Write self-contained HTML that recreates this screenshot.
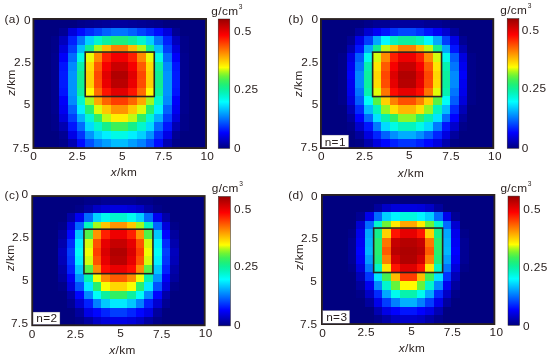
<!DOCTYPE html>
<html><head><meta charset="utf-8"><title>figure</title>
<style>
html,body{margin:0;padding:0;background:#fff;}
svg{display:block;}
text{font-family:"Liberation Sans",sans-serif;font-size:11.8px;fill:#2b2220;letter-spacing:0.4px;}
.i{font-style:italic;}
.sup{font-size:6.6px;}
</style></head><body>
<svg width="550" height="358" viewBox="0 0 550 358">
<defs>
<linearGradient id="jet" x1="0" y1="1" x2="0" y2="0">
<stop offset="0.0000" stop-color="#000080"/>
<stop offset="0.1200" stop-color="#0000ff"/>
<stop offset="0.3600" stop-color="#00ffff"/>
<stop offset="0.3759" stop-color="#00fcee"/>
<stop offset="0.3931" stop-color="#00f9dc"/>
<stop offset="0.4263" stop-color="#04f4ba"/>
<stop offset="0.4594" stop-color="#0df198"/>
<stop offset="0.4925" stop-color="#20f077"/>
<stop offset="0.5256" stop-color="#3ef157"/>
<stop offset="0.5587" stop-color="#6cf437"/>
<stop offset="0.5773" stop-color="#8df727"/>
<stop offset="0.5919" stop-color="#abf91a"/>
<stop offset="0.6091" stop-color="#d4fc0c"/>
<stop offset="0.6250" stop-color="#ffff00"/>
<stop offset="0.8750" stop-color="#ff0000"/>
<stop offset="1.0000" stop-color="#990000"/>
</linearGradient>
</defs>
<rect x="0" y="0" width="550" height="358" fill="#ffffff"/>

<g shape-rendering="crispEdges">
<rect x="33.42" y="18.93" width="43.46" height="8.91" fill="#000080"/>
<rect x="76.59" y="18.93" width="8.93" height="8.91" fill="#00008a"/>
<rect x="85.22" y="18.93" width="8.93" height="8.91" fill="#00008f"/>
<rect x="93.85" y="18.93" width="8.93" height="8.91" fill="#000094"/>
<rect x="102.48" y="18.93" width="8.93" height="8.91" fill="#000099"/>
<rect x="111.12" y="18.93" width="17.57" height="8.91" fill="#00009e"/>
<rect x="128.38" y="18.93" width="8.93" height="8.91" fill="#000099"/>
<rect x="137.01" y="18.93" width="8.93" height="8.91" fill="#000094"/>
<rect x="145.65" y="18.93" width="8.93" height="8.91" fill="#00008f"/>
<rect x="154.28" y="18.93" width="8.93" height="8.91" fill="#00008a"/>
<rect x="162.91" y="18.93" width="43.46" height="8.91" fill="#000080"/>
<rect x="33.42" y="27.53" width="26.20" height="8.91" fill="#000080"/>
<rect x="59.32" y="27.53" width="8.93" height="8.91" fill="#000094"/>
<rect x="67.95" y="27.53" width="8.93" height="8.91" fill="#0000db"/>
<rect x="76.59" y="27.53" width="8.93" height="8.91" fill="#000aff"/>
<rect x="85.22" y="27.53" width="8.93" height="8.91" fill="#0029ff"/>
<rect x="93.85" y="27.53" width="8.93" height="8.91" fill="#0042ff"/>
<rect x="102.48" y="27.53" width="8.93" height="8.91" fill="#0061ff"/>
<rect x="111.12" y="27.53" width="17.57" height="8.91" fill="#0075ff"/>
<rect x="128.38" y="27.53" width="8.93" height="8.91" fill="#0061ff"/>
<rect x="137.01" y="27.53" width="8.93" height="8.91" fill="#0042ff"/>
<rect x="145.65" y="27.53" width="8.93" height="8.91" fill="#0029ff"/>
<rect x="154.28" y="27.53" width="8.93" height="8.91" fill="#000aff"/>
<rect x="162.91" y="27.53" width="8.93" height="8.91" fill="#0000db"/>
<rect x="171.54" y="27.53" width="8.93" height="8.91" fill="#000094"/>
<rect x="180.18" y="27.53" width="26.20" height="8.91" fill="#000080"/>
<rect x="33.42" y="36.14" width="17.57" height="8.91" fill="#000080"/>
<rect x="50.69" y="36.14" width="8.93" height="8.91" fill="#00008a"/>
<rect x="59.32" y="36.14" width="8.93" height="8.91" fill="#0000bd"/>
<rect x="67.95" y="36.14" width="8.93" height="8.91" fill="#001fff"/>
<rect x="76.59" y="36.14" width="8.93" height="8.91" fill="#0075ff"/>
<rect x="85.22" y="36.14" width="8.93" height="8.91" fill="#00d1ff"/>
<rect x="93.85" y="36.14" width="8.93" height="8.91" fill="#01f7cd"/>
<rect x="102.48" y="36.14" width="8.93" height="8.91" fill="#0bf19f"/>
<rect x="111.12" y="36.14" width="17.57" height="8.91" fill="#1cf07c"/>
<rect x="128.38" y="36.14" width="8.93" height="8.91" fill="#0bf19f"/>
<rect x="137.01" y="36.14" width="8.93" height="8.91" fill="#01f7cd"/>
<rect x="145.65" y="36.14" width="8.93" height="8.91" fill="#00d1ff"/>
<rect x="154.28" y="36.14" width="8.93" height="8.91" fill="#0075ff"/>
<rect x="162.91" y="36.14" width="8.93" height="8.91" fill="#001fff"/>
<rect x="171.54" y="36.14" width="8.93" height="8.91" fill="#0000bd"/>
<rect x="180.18" y="36.14" width="8.93" height="8.91" fill="#00008a"/>
<rect x="188.81" y="36.14" width="17.57" height="8.91" fill="#000080"/>
<rect x="33.42" y="44.75" width="17.57" height="8.91" fill="#000080"/>
<rect x="50.69" y="44.75" width="8.93" height="8.91" fill="#00008a"/>
<rect x="59.32" y="44.75" width="8.93" height="8.91" fill="#0000db"/>
<rect x="67.95" y="44.75" width="8.93" height="8.91" fill="#003dff"/>
<rect x="76.59" y="44.75" width="8.93" height="8.91" fill="#00bdff"/>
<rect x="85.22" y="44.75" width="8.93" height="8.91" fill="#11f091"/>
<rect x="93.85" y="44.75" width="8.93" height="8.91" fill="#aff918"/>
<rect x="102.48" y="44.75" width="8.93" height="8.91" fill="#ffbd00"/>
<rect x="111.12" y="44.75" width="17.57" height="8.91" fill="#ff8000"/>
<rect x="128.38" y="44.75" width="8.93" height="8.91" fill="#ffbd00"/>
<rect x="137.01" y="44.75" width="8.93" height="8.91" fill="#aff918"/>
<rect x="145.65" y="44.75" width="8.93" height="8.91" fill="#11f091"/>
<rect x="154.28" y="44.75" width="8.93" height="8.91" fill="#00bdff"/>
<rect x="162.91" y="44.75" width="8.93" height="8.91" fill="#003dff"/>
<rect x="171.54" y="44.75" width="8.93" height="8.91" fill="#0000db"/>
<rect x="180.18" y="44.75" width="8.93" height="8.91" fill="#00008a"/>
<rect x="188.81" y="44.75" width="17.57" height="8.91" fill="#000080"/>
<rect x="33.42" y="53.36" width="17.57" height="8.91" fill="#000080"/>
<rect x="50.69" y="53.36" width="8.93" height="8.91" fill="#00008f"/>
<rect x="59.32" y="53.36" width="8.93" height="8.91" fill="#0000fa"/>
<rect x="67.95" y="53.36" width="8.93" height="8.91" fill="#006bff"/>
<rect x="76.59" y="53.36" width="8.93" height="8.91" fill="#00fbe6"/>
<rect x="85.22" y="53.36" width="8.93" height="8.91" fill="#e9fe05"/>
<rect x="93.85" y="53.36" width="8.93" height="8.91" fill="#ff8a00"/>
<rect x="102.48" y="53.36" width="8.93" height="8.91" fill="#ff1f00"/>
<rect x="111.12" y="53.36" width="17.57" height="8.91" fill="#f30000"/>
<rect x="128.38" y="53.36" width="8.93" height="8.91" fill="#ff1f00"/>
<rect x="137.01" y="53.36" width="8.93" height="8.91" fill="#ff8a00"/>
<rect x="145.65" y="53.36" width="8.93" height="8.91" fill="#e9fe05"/>
<rect x="154.28" y="53.36" width="8.93" height="8.91" fill="#00fbe6"/>
<rect x="162.91" y="53.36" width="8.93" height="8.91" fill="#006bff"/>
<rect x="171.54" y="53.36" width="8.93" height="8.91" fill="#0000fa"/>
<rect x="180.18" y="53.36" width="8.93" height="8.91" fill="#00008f"/>
<rect x="188.81" y="53.36" width="17.57" height="8.91" fill="#000080"/>
<rect x="33.42" y="61.97" width="17.57" height="8.91" fill="#000080"/>
<rect x="50.69" y="61.97" width="8.93" height="8.91" fill="#00008f"/>
<rect x="59.32" y="61.97" width="8.93" height="8.91" fill="#0014ff"/>
<rect x="67.95" y="61.97" width="8.93" height="8.91" fill="#008aff"/>
<rect x="76.59" y="61.97" width="8.93" height="8.91" fill="#09f2a6"/>
<rect x="85.22" y="61.97" width="8.93" height="8.91" fill="#ffdb00"/>
<rect x="93.85" y="61.97" width="8.93" height="8.91" fill="#ff5a00"/>
<rect x="102.48" y="61.97" width="8.93" height="8.91" fill="#f70000"/>
<rect x="111.12" y="61.97" width="17.57" height="8.91" fill="#ca0000"/>
<rect x="128.38" y="61.97" width="8.93" height="8.91" fill="#f70000"/>
<rect x="137.01" y="61.97" width="8.93" height="8.91" fill="#ff5a00"/>
<rect x="145.65" y="61.97" width="8.93" height="8.91" fill="#ffdb00"/>
<rect x="154.28" y="61.97" width="8.93" height="8.91" fill="#09f2a6"/>
<rect x="162.91" y="61.97" width="8.93" height="8.91" fill="#008aff"/>
<rect x="171.54" y="61.97" width="8.93" height="8.91" fill="#0014ff"/>
<rect x="180.18" y="61.97" width="8.93" height="8.91" fill="#00008f"/>
<rect x="188.81" y="61.97" width="17.57" height="8.91" fill="#000080"/>
<rect x="33.42" y="70.58" width="17.57" height="8.91" fill="#000080"/>
<rect x="50.69" y="70.58" width="8.93" height="8.91" fill="#00008f"/>
<rect x="59.32" y="70.58" width="8.93" height="8.91" fill="#001aff"/>
<rect x="67.95" y="70.58" width="8.93" height="8.91" fill="#0094ff"/>
<rect x="76.59" y="70.58" width="8.93" height="8.91" fill="#11f091"/>
<rect x="85.22" y="70.58" width="8.93" height="8.91" fill="#ffd100"/>
<rect x="93.85" y="70.58" width="8.93" height="8.91" fill="#ff4600"/>
<rect x="102.48" y="70.58" width="8.93" height="8.91" fill="#e20000"/>
<rect x="111.12" y="70.58" width="17.57" height="8.91" fill="#b10000"/>
<rect x="128.38" y="70.58" width="8.93" height="8.91" fill="#e20000"/>
<rect x="137.01" y="70.58" width="8.93" height="8.91" fill="#ff4600"/>
<rect x="145.65" y="70.58" width="8.93" height="8.91" fill="#ffd100"/>
<rect x="154.28" y="70.58" width="8.93" height="8.91" fill="#11f091"/>
<rect x="162.91" y="70.58" width="8.93" height="8.91" fill="#0094ff"/>
<rect x="171.54" y="70.58" width="8.93" height="8.91" fill="#001aff"/>
<rect x="180.18" y="70.58" width="8.93" height="8.91" fill="#00008f"/>
<rect x="188.81" y="70.58" width="17.57" height="8.91" fill="#000080"/>
<rect x="33.42" y="79.19" width="17.57" height="8.91" fill="#000080"/>
<rect x="50.69" y="79.19" width="8.93" height="8.91" fill="#00008f"/>
<rect x="59.32" y="79.19" width="8.93" height="8.91" fill="#001aff"/>
<rect x="67.95" y="79.19" width="8.93" height="8.91" fill="#0094ff"/>
<rect x="76.59" y="79.19" width="8.93" height="8.91" fill="#11f091"/>
<rect x="85.22" y="79.19" width="8.93" height="8.91" fill="#ffd100"/>
<rect x="93.85" y="79.19" width="8.93" height="8.91" fill="#ff4c00"/>
<rect x="102.48" y="79.19" width="8.93" height="8.91" fill="#eb0000"/>
<rect x="111.12" y="79.19" width="17.57" height="8.91" fill="#ba0000"/>
<rect x="128.38" y="79.19" width="8.93" height="8.91" fill="#eb0000"/>
<rect x="137.01" y="79.19" width="8.93" height="8.91" fill="#ff4c00"/>
<rect x="145.65" y="79.19" width="8.93" height="8.91" fill="#ffd100"/>
<rect x="154.28" y="79.19" width="8.93" height="8.91" fill="#11f091"/>
<rect x="162.91" y="79.19" width="8.93" height="8.91" fill="#0094ff"/>
<rect x="171.54" y="79.19" width="8.93" height="8.91" fill="#001aff"/>
<rect x="180.18" y="79.19" width="8.93" height="8.91" fill="#00008f"/>
<rect x="188.81" y="79.19" width="17.57" height="8.91" fill="#000080"/>
<rect x="33.42" y="87.80" width="17.57" height="8.91" fill="#000080"/>
<rect x="50.69" y="87.80" width="8.93" height="8.91" fill="#00008f"/>
<rect x="59.32" y="87.80" width="8.93" height="8.91" fill="#0014ff"/>
<rect x="67.95" y="87.80" width="8.93" height="8.91" fill="#0094ff"/>
<rect x="76.59" y="87.80" width="8.93" height="8.91" fill="#0bf19f"/>
<rect x="85.22" y="87.80" width="8.93" height="8.91" fill="#fffa00"/>
<rect x="93.85" y="87.80" width="8.93" height="8.91" fill="#ff6b00"/>
<rect x="102.48" y="87.80" width="8.93" height="8.91" fill="#ff1400"/>
<rect x="111.12" y="87.80" width="17.57" height="8.91" fill="#e20000"/>
<rect x="128.38" y="87.80" width="8.93" height="8.91" fill="#ff1400"/>
<rect x="137.01" y="87.80" width="8.93" height="8.91" fill="#ff6b00"/>
<rect x="145.65" y="87.80" width="8.93" height="8.91" fill="#fffa00"/>
<rect x="154.28" y="87.80" width="8.93" height="8.91" fill="#0bf19f"/>
<rect x="162.91" y="87.80" width="8.93" height="8.91" fill="#0094ff"/>
<rect x="171.54" y="87.80" width="8.93" height="8.91" fill="#0014ff"/>
<rect x="180.18" y="87.80" width="8.93" height="8.91" fill="#00008f"/>
<rect x="188.81" y="87.80" width="17.57" height="8.91" fill="#000080"/>
<rect x="33.42" y="96.41" width="17.57" height="8.91" fill="#000080"/>
<rect x="50.69" y="96.41" width="8.93" height="8.91" fill="#00008f"/>
<rect x="59.32" y="96.41" width="8.93" height="8.91" fill="#0000fa"/>
<rect x="67.95" y="96.41" width="8.93" height="8.91" fill="#008aff"/>
<rect x="76.59" y="96.41" width="8.93" height="8.91" fill="#01f7cd"/>
<rect x="85.22" y="96.41" width="8.93" height="8.91" fill="#a0f81e"/>
<rect x="93.85" y="96.41" width="8.93" height="8.91" fill="#ffa800"/>
<rect x="102.48" y="96.41" width="8.93" height="8.91" fill="#ff6400"/>
<rect x="111.12" y="96.41" width="17.57" height="8.91" fill="#ff3c00"/>
<rect x="128.38" y="96.41" width="8.93" height="8.91" fill="#ff6400"/>
<rect x="137.01" y="96.41" width="8.93" height="8.91" fill="#ffa800"/>
<rect x="145.65" y="96.41" width="8.93" height="8.91" fill="#a0f81e"/>
<rect x="154.28" y="96.41" width="8.93" height="8.91" fill="#01f7cd"/>
<rect x="162.91" y="96.41" width="8.93" height="8.91" fill="#008aff"/>
<rect x="171.54" y="96.41" width="8.93" height="8.91" fill="#0000fa"/>
<rect x="180.18" y="96.41" width="8.93" height="8.91" fill="#00008f"/>
<rect x="188.81" y="96.41" width="17.57" height="8.91" fill="#000080"/>
<rect x="33.42" y="105.02" width="17.57" height="8.91" fill="#000080"/>
<rect x="50.69" y="105.02" width="8.93" height="8.91" fill="#00008f"/>
<rect x="59.32" y="105.02" width="8.93" height="8.91" fill="#0000f0"/>
<rect x="67.95" y="105.02" width="8.93" height="8.91" fill="#0061ff"/>
<rect x="76.59" y="105.02" width="8.93" height="8.91" fill="#00f0ff"/>
<rect x="85.22" y="105.02" width="8.93" height="8.91" fill="#26f06f"/>
<rect x="93.85" y="105.02" width="8.93" height="8.91" fill="#dafd0a"/>
<rect x="102.48" y="105.02" width="8.93" height="8.91" fill="#ffc700"/>
<rect x="111.12" y="105.02" width="17.57" height="8.91" fill="#ff9400"/>
<rect x="128.38" y="105.02" width="8.93" height="8.91" fill="#ffc700"/>
<rect x="137.01" y="105.02" width="8.93" height="8.91" fill="#dafd0a"/>
<rect x="145.65" y="105.02" width="8.93" height="8.91" fill="#26f06f"/>
<rect x="154.28" y="105.02" width="8.93" height="8.91" fill="#00f0ff"/>
<rect x="162.91" y="105.02" width="8.93" height="8.91" fill="#0061ff"/>
<rect x="171.54" y="105.02" width="8.93" height="8.91" fill="#0000f0"/>
<rect x="180.18" y="105.02" width="8.93" height="8.91" fill="#00008f"/>
<rect x="188.81" y="105.02" width="17.57" height="8.91" fill="#000080"/>
<rect x="33.42" y="113.63" width="17.57" height="8.91" fill="#000080"/>
<rect x="50.69" y="113.63" width="8.93" height="8.91" fill="#00008a"/>
<rect x="59.32" y="113.63" width="8.93" height="8.91" fill="#0000db"/>
<rect x="67.95" y="113.63" width="8.93" height="8.91" fill="#003dff"/>
<rect x="76.59" y="113.63" width="8.93" height="8.91" fill="#00b2ff"/>
<rect x="85.22" y="113.63" width="8.93" height="8.91" fill="#01f8d5"/>
<rect x="93.85" y="113.63" width="8.93" height="8.91" fill="#30f063"/>
<rect x="102.48" y="113.63" width="8.93" height="8.91" fill="#bdfb13"/>
<rect x="111.12" y="113.63" width="17.57" height="8.91" fill="#fff000"/>
<rect x="128.38" y="113.63" width="8.93" height="8.91" fill="#bdfb13"/>
<rect x="137.01" y="113.63" width="8.93" height="8.91" fill="#30f063"/>
<rect x="145.65" y="113.63" width="8.93" height="8.91" fill="#01f8d5"/>
<rect x="154.28" y="113.63" width="8.93" height="8.91" fill="#00b2ff"/>
<rect x="162.91" y="113.63" width="8.93" height="8.91" fill="#003dff"/>
<rect x="171.54" y="113.63" width="8.93" height="8.91" fill="#0000db"/>
<rect x="180.18" y="113.63" width="8.93" height="8.91" fill="#00008a"/>
<rect x="188.81" y="113.63" width="17.57" height="8.91" fill="#000080"/>
<rect x="33.42" y="122.24" width="17.57" height="8.91" fill="#000080"/>
<rect x="50.69" y="122.24" width="8.93" height="8.91" fill="#00008a"/>
<rect x="59.32" y="122.24" width="8.93" height="8.91" fill="#0000b2"/>
<rect x="67.95" y="122.24" width="8.93" height="8.91" fill="#0014ff"/>
<rect x="76.59" y="122.24" width="8.93" height="8.91" fill="#006bff"/>
<rect x="85.22" y="122.24" width="8.93" height="8.91" fill="#00dbff"/>
<rect x="93.85" y="122.24" width="8.93" height="8.91" fill="#01f7cd"/>
<rect x="102.48" y="122.24" width="8.93" height="8.91" fill="#14f08a"/>
<rect x="111.12" y="122.24" width="17.57" height="8.91" fill="#3cf158"/>
<rect x="128.38" y="122.24" width="8.93" height="8.91" fill="#14f08a"/>
<rect x="137.01" y="122.24" width="8.93" height="8.91" fill="#01f7cd"/>
<rect x="145.65" y="122.24" width="8.93" height="8.91" fill="#00dbff"/>
<rect x="154.28" y="122.24" width="8.93" height="8.91" fill="#006bff"/>
<rect x="162.91" y="122.24" width="8.93" height="8.91" fill="#0014ff"/>
<rect x="171.54" y="122.24" width="8.93" height="8.91" fill="#0000b2"/>
<rect x="180.18" y="122.24" width="8.93" height="8.91" fill="#00008a"/>
<rect x="188.81" y="122.24" width="17.57" height="8.91" fill="#000080"/>
<rect x="33.42" y="130.85" width="26.20" height="8.91" fill="#000080"/>
<rect x="59.32" y="130.85" width="8.93" height="8.91" fill="#000094"/>
<rect x="67.95" y="130.85" width="8.93" height="8.91" fill="#0000e6"/>
<rect x="76.59" y="130.85" width="8.93" height="8.91" fill="#0033ff"/>
<rect x="85.22" y="130.85" width="8.93" height="8.91" fill="#0094ff"/>
<rect x="93.85" y="130.85" width="8.93" height="8.91" fill="#00d1ff"/>
<rect x="102.48" y="130.85" width="8.93" height="8.91" fill="#00f0ff"/>
<rect x="111.12" y="130.85" width="17.57" height="8.91" fill="#00fbe6"/>
<rect x="128.38" y="130.85" width="8.93" height="8.91" fill="#00f0ff"/>
<rect x="137.01" y="130.85" width="8.93" height="8.91" fill="#00d1ff"/>
<rect x="145.65" y="130.85" width="8.93" height="8.91" fill="#0094ff"/>
<rect x="154.28" y="130.85" width="8.93" height="8.91" fill="#0033ff"/>
<rect x="162.91" y="130.85" width="8.93" height="8.91" fill="#0000e6"/>
<rect x="171.54" y="130.85" width="8.93" height="8.91" fill="#000094"/>
<rect x="180.18" y="130.85" width="26.20" height="8.91" fill="#000080"/>
<rect x="33.42" y="139.46" width="26.20" height="8.91" fill="#000080"/>
<rect x="59.32" y="139.46" width="8.93" height="8.91" fill="#00008a"/>
<rect x="67.95" y="139.46" width="8.93" height="8.91" fill="#0000b2"/>
<rect x="76.59" y="139.46" width="8.93" height="8.91" fill="#000aff"/>
<rect x="85.22" y="139.46" width="8.93" height="8.91" fill="#004dff"/>
<rect x="93.85" y="139.46" width="8.93" height="8.91" fill="#0080ff"/>
<rect x="102.48" y="139.46" width="8.93" height="8.91" fill="#009eff"/>
<rect x="111.12" y="139.46" width="17.57" height="8.91" fill="#00bdff"/>
<rect x="128.38" y="139.46" width="8.93" height="8.91" fill="#009eff"/>
<rect x="137.01" y="139.46" width="8.93" height="8.91" fill="#0080ff"/>
<rect x="145.65" y="139.46" width="8.93" height="8.91" fill="#004dff"/>
<rect x="154.28" y="139.46" width="8.93" height="8.91" fill="#000aff"/>
<rect x="162.91" y="139.46" width="8.93" height="8.91" fill="#0000b2"/>
<rect x="171.54" y="139.46" width="8.93" height="8.91" fill="#00008a"/>
<rect x="180.18" y="139.46" width="26.20" height="8.91" fill="#000080"/>
</g>
<rect x="33.42" y="18.93" width="172.65" height="129.15" fill="none" stroke="#2b2220" stroke-width="1.85"/>
<rect x="85.22" y="52.06" width="69.06" height="44.45" fill="none" stroke="#2b2220" stroke-width="1.6"/>
<rect x="218.20" y="19.00" width="11.60" height="129.40" fill="url(#jet)" stroke="#2b2220" stroke-width="0.5"/>
<g shape-rendering="crispEdges">
<rect x="320.93" y="19.03" width="43.39" height="8.90" fill="#000080"/>
<rect x="364.01" y="19.03" width="8.92" height="8.90" fill="#00008a"/>
<rect x="372.63" y="19.03" width="17.54" height="8.90" fill="#000094"/>
<rect x="389.87" y="19.03" width="34.77" height="8.90" fill="#00009e"/>
<rect x="424.33" y="19.03" width="17.54" height="8.90" fill="#000094"/>
<rect x="441.57" y="19.03" width="8.92" height="8.90" fill="#00008a"/>
<rect x="450.19" y="19.03" width="43.39" height="8.90" fill="#000080"/>
<rect x="320.93" y="27.63" width="34.77" height="8.90" fill="#000080"/>
<rect x="355.39" y="27.63" width="8.92" height="8.90" fill="#00009e"/>
<rect x="364.01" y="27.63" width="8.92" height="8.90" fill="#0000d1"/>
<rect x="372.63" y="27.63" width="8.92" height="8.90" fill="#0000f5"/>
<rect x="381.25" y="27.63" width="8.92" height="8.90" fill="#0014ff"/>
<rect x="389.87" y="27.63" width="8.92" height="8.90" fill="#0033ff"/>
<rect x="398.48" y="27.63" width="17.54" height="8.90" fill="#0047ff"/>
<rect x="415.72" y="27.63" width="8.92" height="8.90" fill="#0033ff"/>
<rect x="424.33" y="27.63" width="8.92" height="8.90" fill="#0014ff"/>
<rect x="432.95" y="27.63" width="8.92" height="8.90" fill="#0000f5"/>
<rect x="441.57" y="27.63" width="8.92" height="8.90" fill="#0000d1"/>
<rect x="450.19" y="27.63" width="8.92" height="8.90" fill="#00009e"/>
<rect x="458.80" y="27.63" width="34.77" height="8.90" fill="#000080"/>
<rect x="320.93" y="36.23" width="26.15" height="8.90" fill="#000080"/>
<rect x="346.78" y="36.23" width="8.92" height="8.90" fill="#000094"/>
<rect x="355.39" y="36.23" width="8.92" height="8.90" fill="#0000e6"/>
<rect x="364.01" y="36.23" width="8.92" height="8.90" fill="#003dff"/>
<rect x="372.63" y="36.23" width="8.92" height="8.90" fill="#00a8ff"/>
<rect x="381.25" y="36.23" width="8.92" height="8.90" fill="#00faff"/>
<rect x="389.87" y="36.23" width="8.92" height="8.90" fill="#03f5bd"/>
<rect x="398.48" y="36.23" width="17.54" height="8.90" fill="#0bf19f"/>
<rect x="415.72" y="36.23" width="8.92" height="8.90" fill="#03f5bd"/>
<rect x="424.33" y="36.23" width="8.92" height="8.90" fill="#00faff"/>
<rect x="432.95" y="36.23" width="8.92" height="8.90" fill="#00a8ff"/>
<rect x="441.57" y="36.23" width="8.92" height="8.90" fill="#003dff"/>
<rect x="450.19" y="36.23" width="8.92" height="8.90" fill="#0000e6"/>
<rect x="458.80" y="36.23" width="8.92" height="8.90" fill="#000094"/>
<rect x="467.42" y="36.23" width="26.15" height="8.90" fill="#000080"/>
<rect x="320.93" y="44.83" width="26.15" height="8.90" fill="#000080"/>
<rect x="346.78" y="44.83" width="8.92" height="8.90" fill="#0000b2"/>
<rect x="355.39" y="44.83" width="8.92" height="8.90" fill="#0014ff"/>
<rect x="364.01" y="44.83" width="8.92" height="8.90" fill="#00a8ff"/>
<rect x="372.63" y="44.83" width="8.92" height="8.90" fill="#11f091"/>
<rect x="381.25" y="44.83" width="8.92" height="8.90" fill="#bdfb13"/>
<rect x="389.87" y="44.83" width="8.92" height="8.90" fill="#ffbd00"/>
<rect x="398.48" y="44.83" width="17.54" height="8.90" fill="#ff8000"/>
<rect x="415.72" y="44.83" width="8.92" height="8.90" fill="#ffbd00"/>
<rect x="424.33" y="44.83" width="8.92" height="8.90" fill="#bdfb13"/>
<rect x="432.95" y="44.83" width="8.92" height="8.90" fill="#11f091"/>
<rect x="441.57" y="44.83" width="8.92" height="8.90" fill="#00a8ff"/>
<rect x="450.19" y="44.83" width="8.92" height="8.90" fill="#0014ff"/>
<rect x="458.80" y="44.83" width="8.92" height="8.90" fill="#0000b2"/>
<rect x="467.42" y="44.83" width="26.15" height="8.90" fill="#000080"/>
<rect x="320.93" y="53.44" width="17.54" height="8.90" fill="#000080"/>
<rect x="338.16" y="53.44" width="8.92" height="8.90" fill="#00008a"/>
<rect x="346.78" y="53.44" width="8.92" height="8.90" fill="#0000e0"/>
<rect x="355.39" y="53.44" width="8.92" height="8.90" fill="#005cff"/>
<rect x="364.01" y="53.44" width="8.92" height="8.90" fill="#00fcee"/>
<rect x="372.63" y="53.44" width="8.92" height="8.90" fill="#d3fc0c"/>
<rect x="381.25" y="53.44" width="8.92" height="8.90" fill="#ff8a00"/>
<rect x="389.87" y="53.44" width="8.92" height="8.90" fill="#ff1f00"/>
<rect x="398.48" y="53.44" width="17.54" height="8.90" fill="#ef0000"/>
<rect x="415.72" y="53.44" width="8.92" height="8.90" fill="#ff1f00"/>
<rect x="424.33" y="53.44" width="8.92" height="8.90" fill="#ff8a00"/>
<rect x="432.95" y="53.44" width="8.92" height="8.90" fill="#d3fc0c"/>
<rect x="441.57" y="53.44" width="8.92" height="8.90" fill="#00fcee"/>
<rect x="450.19" y="53.44" width="8.92" height="8.90" fill="#005cff"/>
<rect x="458.80" y="53.44" width="8.92" height="8.90" fill="#0000e0"/>
<rect x="467.42" y="53.44" width="8.92" height="8.90" fill="#00008a"/>
<rect x="476.04" y="53.44" width="17.54" height="8.90" fill="#000080"/>
<rect x="320.93" y="62.04" width="17.54" height="8.90" fill="#000080"/>
<rect x="338.16" y="62.04" width="8.92" height="8.90" fill="#00008a"/>
<rect x="346.78" y="62.04" width="8.92" height="8.90" fill="#0000f0"/>
<rect x="355.39" y="62.04" width="8.92" height="8.90" fill="#0075ff"/>
<rect x="364.01" y="62.04" width="8.92" height="8.90" fill="#06f3ae"/>
<rect x="372.63" y="62.04" width="8.92" height="8.90" fill="#ffe500"/>
<rect x="381.25" y="62.04" width="8.92" height="8.90" fill="#ff5a00"/>
<rect x="389.87" y="62.04" width="8.92" height="8.90" fill="#f70000"/>
<rect x="398.48" y="62.04" width="17.54" height="8.90" fill="#c60000"/>
<rect x="415.72" y="62.04" width="8.92" height="8.90" fill="#f70000"/>
<rect x="424.33" y="62.04" width="8.92" height="8.90" fill="#ff5a00"/>
<rect x="432.95" y="62.04" width="8.92" height="8.90" fill="#ffe500"/>
<rect x="441.57" y="62.04" width="8.92" height="8.90" fill="#06f3ae"/>
<rect x="450.19" y="62.04" width="8.92" height="8.90" fill="#0075ff"/>
<rect x="458.80" y="62.04" width="8.92" height="8.90" fill="#0000f0"/>
<rect x="467.42" y="62.04" width="8.92" height="8.90" fill="#00008a"/>
<rect x="476.04" y="62.04" width="17.54" height="8.90" fill="#000080"/>
<rect x="320.93" y="70.64" width="17.54" height="8.90" fill="#000080"/>
<rect x="338.16" y="70.64" width="8.92" height="8.90" fill="#00008a"/>
<rect x="346.78" y="70.64" width="8.92" height="8.90" fill="#0000fa"/>
<rect x="355.39" y="70.64" width="8.92" height="8.90" fill="#008aff"/>
<rect x="364.01" y="70.64" width="8.92" height="8.90" fill="#0bf19f"/>
<rect x="372.63" y="70.64" width="8.92" height="8.90" fill="#ffd600"/>
<rect x="381.25" y="70.64" width="8.92" height="8.90" fill="#ff4600"/>
<rect x="389.87" y="70.64" width="8.92" height="8.90" fill="#de0000"/>
<rect x="398.48" y="70.64" width="17.54" height="8.90" fill="#b10000"/>
<rect x="415.72" y="70.64" width="8.92" height="8.90" fill="#de0000"/>
<rect x="424.33" y="70.64" width="8.92" height="8.90" fill="#ff4600"/>
<rect x="432.95" y="70.64" width="8.92" height="8.90" fill="#ffd600"/>
<rect x="441.57" y="70.64" width="8.92" height="8.90" fill="#0bf19f"/>
<rect x="450.19" y="70.64" width="8.92" height="8.90" fill="#008aff"/>
<rect x="458.80" y="70.64" width="8.92" height="8.90" fill="#0000fa"/>
<rect x="467.42" y="70.64" width="8.92" height="8.90" fill="#00008a"/>
<rect x="476.04" y="70.64" width="17.54" height="8.90" fill="#000080"/>
<rect x="320.93" y="79.25" width="17.54" height="8.90" fill="#000080"/>
<rect x="338.16" y="79.25" width="8.92" height="8.90" fill="#00008a"/>
<rect x="346.78" y="79.25" width="8.92" height="8.90" fill="#0000f0"/>
<rect x="355.39" y="79.25" width="8.92" height="8.90" fill="#008aff"/>
<rect x="364.01" y="79.25" width="8.92" height="8.90" fill="#0bf19f"/>
<rect x="372.63" y="79.25" width="8.92" height="8.90" fill="#ffdb00"/>
<rect x="381.25" y="79.25" width="8.92" height="8.90" fill="#ff4c00"/>
<rect x="389.87" y="79.25" width="8.92" height="8.90" fill="#e70000"/>
<rect x="398.48" y="79.25" width="17.54" height="8.90" fill="#b60000"/>
<rect x="415.72" y="79.25" width="8.92" height="8.90" fill="#e70000"/>
<rect x="424.33" y="79.25" width="8.92" height="8.90" fill="#ff4c00"/>
<rect x="432.95" y="79.25" width="8.92" height="8.90" fill="#ffdb00"/>
<rect x="441.57" y="79.25" width="8.92" height="8.90" fill="#0bf19f"/>
<rect x="450.19" y="79.25" width="8.92" height="8.90" fill="#008aff"/>
<rect x="458.80" y="79.25" width="8.92" height="8.90" fill="#0000f0"/>
<rect x="467.42" y="79.25" width="8.92" height="8.90" fill="#00008a"/>
<rect x="476.04" y="79.25" width="17.54" height="8.90" fill="#000080"/>
<rect x="320.93" y="87.85" width="17.54" height="8.90" fill="#000080"/>
<rect x="338.16" y="87.85" width="8.92" height="8.90" fill="#00008a"/>
<rect x="346.78" y="87.85" width="8.92" height="8.90" fill="#0000eb"/>
<rect x="355.39" y="87.85" width="8.92" height="8.90" fill="#0075ff"/>
<rect x="364.01" y="87.85" width="8.92" height="8.90" fill="#06f3ae"/>
<rect x="372.63" y="87.85" width="8.92" height="8.90" fill="#e1fd07"/>
<rect x="381.25" y="87.85" width="8.92" height="8.90" fill="#ff7500"/>
<rect x="389.87" y="87.85" width="8.92" height="8.90" fill="#ff0a00"/>
<rect x="398.48" y="87.85" width="17.54" height="8.90" fill="#e70000"/>
<rect x="415.72" y="87.85" width="8.92" height="8.90" fill="#ff0a00"/>
<rect x="424.33" y="87.85" width="8.92" height="8.90" fill="#ff7500"/>
<rect x="432.95" y="87.85" width="8.92" height="8.90" fill="#e1fd07"/>
<rect x="441.57" y="87.85" width="8.92" height="8.90" fill="#06f3ae"/>
<rect x="450.19" y="87.85" width="8.92" height="8.90" fill="#0075ff"/>
<rect x="458.80" y="87.85" width="8.92" height="8.90" fill="#0000eb"/>
<rect x="467.42" y="87.85" width="8.92" height="8.90" fill="#00008a"/>
<rect x="476.04" y="87.85" width="17.54" height="8.90" fill="#000080"/>
<rect x="320.93" y="96.45" width="17.54" height="8.90" fill="#000080"/>
<rect x="338.16" y="96.45" width="8.92" height="8.90" fill="#00008a"/>
<rect x="346.78" y="96.45" width="8.92" height="8.90" fill="#0000db"/>
<rect x="355.39" y="96.45" width="8.92" height="8.90" fill="#005cff"/>
<rect x="364.01" y="96.45" width="8.92" height="8.90" fill="#00fef7"/>
<rect x="372.63" y="96.45" width="8.92" height="8.90" fill="#57f344"/>
<rect x="381.25" y="96.45" width="8.92" height="8.90" fill="#ffd100"/>
<rect x="389.87" y="96.45" width="8.92" height="8.90" fill="#ff8000"/>
<rect x="398.48" y="96.45" width="17.54" height="8.90" fill="#ff5000"/>
<rect x="415.72" y="96.45" width="8.92" height="8.90" fill="#ff8000"/>
<rect x="424.33" y="96.45" width="8.92" height="8.90" fill="#ffd100"/>
<rect x="432.95" y="96.45" width="8.92" height="8.90" fill="#57f344"/>
<rect x="441.57" y="96.45" width="8.92" height="8.90" fill="#00fef7"/>
<rect x="450.19" y="96.45" width="8.92" height="8.90" fill="#005cff"/>
<rect x="458.80" y="96.45" width="8.92" height="8.90" fill="#0000db"/>
<rect x="467.42" y="96.45" width="8.92" height="8.90" fill="#00008a"/>
<rect x="476.04" y="96.45" width="17.54" height="8.90" fill="#000080"/>
<rect x="320.93" y="105.06" width="26.15" height="8.90" fill="#000080"/>
<rect x="346.78" y="105.06" width="8.92" height="8.90" fill="#0000b8"/>
<rect x="355.39" y="105.06" width="8.92" height="8.90" fill="#0029ff"/>
<rect x="364.01" y="105.06" width="8.92" height="8.90" fill="#00bdff"/>
<rect x="372.63" y="105.06" width="8.92" height="8.90" fill="#03f5bd"/>
<rect x="381.25" y="105.06" width="8.92" height="8.90" fill="#92f724"/>
<rect x="389.87" y="105.06" width="8.92" height="8.90" fill="#ffe000"/>
<rect x="398.48" y="105.06" width="17.54" height="8.90" fill="#ffb800"/>
<rect x="415.72" y="105.06" width="8.92" height="8.90" fill="#ffe000"/>
<rect x="424.33" y="105.06" width="8.92" height="8.90" fill="#92f724"/>
<rect x="432.95" y="105.06" width="8.92" height="8.90" fill="#03f5bd"/>
<rect x="441.57" y="105.06" width="8.92" height="8.90" fill="#00bdff"/>
<rect x="450.19" y="105.06" width="8.92" height="8.90" fill="#0029ff"/>
<rect x="458.80" y="105.06" width="8.92" height="8.90" fill="#0000b8"/>
<rect x="467.42" y="105.06" width="26.15" height="8.90" fill="#000080"/>
<rect x="320.93" y="113.66" width="26.15" height="8.90" fill="#000080"/>
<rect x="346.78" y="113.66" width="8.92" height="8.90" fill="#00009e"/>
<rect x="355.39" y="113.66" width="8.92" height="8.90" fill="#0000ff"/>
<rect x="364.01" y="113.66" width="8.92" height="8.90" fill="#006bff"/>
<rect x="372.63" y="113.66" width="8.92" height="8.90" fill="#00e5ff"/>
<rect x="381.25" y="113.66" width="8.92" height="8.90" fill="#06f3ae"/>
<rect x="389.87" y="113.66" width="8.92" height="8.90" fill="#30f063"/>
<rect x="398.48" y="113.66" width="17.54" height="8.90" fill="#8af728"/>
<rect x="415.72" y="113.66" width="8.92" height="8.90" fill="#30f063"/>
<rect x="424.33" y="113.66" width="8.92" height="8.90" fill="#06f3ae"/>
<rect x="432.95" y="113.66" width="8.92" height="8.90" fill="#00e5ff"/>
<rect x="441.57" y="113.66" width="8.92" height="8.90" fill="#006bff"/>
<rect x="450.19" y="113.66" width="8.92" height="8.90" fill="#0000ff"/>
<rect x="458.80" y="113.66" width="8.92" height="8.90" fill="#00009e"/>
<rect x="467.42" y="113.66" width="26.15" height="8.90" fill="#000080"/>
<rect x="320.93" y="122.26" width="26.15" height="8.90" fill="#000080"/>
<rect x="346.78" y="122.26" width="8.92" height="8.90" fill="#00008a"/>
<rect x="355.39" y="122.26" width="8.92" height="8.90" fill="#0000cc"/>
<rect x="364.01" y="122.26" width="8.92" height="8.90" fill="#0014ff"/>
<rect x="372.63" y="122.26" width="8.92" height="8.90" fill="#007aff"/>
<rect x="381.25" y="122.26" width="8.92" height="8.90" fill="#00dbff"/>
<rect x="389.87" y="122.26" width="8.92" height="8.90" fill="#00fbe6"/>
<rect x="398.48" y="122.26" width="17.54" height="8.90" fill="#03f5bd"/>
<rect x="415.72" y="122.26" width="8.92" height="8.90" fill="#00fbe6"/>
<rect x="424.33" y="122.26" width="8.92" height="8.90" fill="#00dbff"/>
<rect x="432.95" y="122.26" width="8.92" height="8.90" fill="#007aff"/>
<rect x="441.57" y="122.26" width="8.92" height="8.90" fill="#0014ff"/>
<rect x="450.19" y="122.26" width="8.92" height="8.90" fill="#0000cc"/>
<rect x="458.80" y="122.26" width="8.92" height="8.90" fill="#00008a"/>
<rect x="467.42" y="122.26" width="26.15" height="8.90" fill="#000080"/>
<rect x="320.93" y="130.87" width="34.77" height="8.90" fill="#000080"/>
<rect x="355.39" y="130.87" width="8.92" height="8.90" fill="#00009e"/>
<rect x="364.01" y="130.87" width="8.92" height="8.90" fill="#0000e0"/>
<rect x="372.63" y="130.87" width="8.92" height="8.90" fill="#0024ff"/>
<rect x="381.25" y="130.87" width="8.92" height="8.90" fill="#0061ff"/>
<rect x="389.87" y="130.87" width="8.92" height="8.90" fill="#008fff"/>
<rect x="398.48" y="130.87" width="17.54" height="8.90" fill="#00adff"/>
<rect x="415.72" y="130.87" width="8.92" height="8.90" fill="#008fff"/>
<rect x="424.33" y="130.87" width="8.92" height="8.90" fill="#0061ff"/>
<rect x="432.95" y="130.87" width="8.92" height="8.90" fill="#0024ff"/>
<rect x="441.57" y="130.87" width="8.92" height="8.90" fill="#0000e0"/>
<rect x="450.19" y="130.87" width="8.92" height="8.90" fill="#00009e"/>
<rect x="458.80" y="130.87" width="34.77" height="8.90" fill="#000080"/>
<rect x="320.93" y="139.47" width="34.77" height="8.90" fill="#000080"/>
<rect x="355.39" y="139.47" width="8.92" height="8.90" fill="#000085"/>
<rect x="364.01" y="139.47" width="8.92" height="8.90" fill="#0000ad"/>
<rect x="372.63" y="139.47" width="8.92" height="8.90" fill="#0000e0"/>
<rect x="381.25" y="139.47" width="8.92" height="8.90" fill="#0005ff"/>
<rect x="389.87" y="139.47" width="8.92" height="8.90" fill="#001fff"/>
<rect x="398.48" y="139.47" width="17.54" height="8.90" fill="#0033ff"/>
<rect x="415.72" y="139.47" width="8.92" height="8.90" fill="#001fff"/>
<rect x="424.33" y="139.47" width="8.92" height="8.90" fill="#0005ff"/>
<rect x="432.95" y="139.47" width="8.92" height="8.90" fill="#0000e0"/>
<rect x="441.57" y="139.47" width="8.92" height="8.90" fill="#0000ad"/>
<rect x="450.19" y="139.47" width="8.92" height="8.90" fill="#000085"/>
<rect x="458.80" y="139.47" width="34.77" height="8.90" fill="#000080"/>
</g>
<rect x="320.93" y="19.03" width="172.35" height="129.05" fill="none" stroke="#2b2220" stroke-width="1.85"/>
<rect x="372.63" y="52.14" width="68.94" height="44.42" fill="none" stroke="#2b2220" stroke-width="1.6"/>
<rect x="507.20" y="18.60" width="11.70" height="129.70" fill="url(#jet)" stroke="#2b2220" stroke-width="0.5"/>
<g shape-rendering="crispEdges">
<rect x="32.23" y="196.03" width="52.03" height="8.92" fill="#000080"/>
<rect x="83.96" y="196.03" width="17.54" height="8.92" fill="#00008a"/>
<rect x="101.20" y="196.03" width="34.79" height="8.92" fill="#000094"/>
<rect x="135.69" y="196.03" width="17.54" height="8.92" fill="#00008a"/>
<rect x="152.94" y="196.03" width="52.04" height="8.92" fill="#000080"/>
<rect x="32.23" y="204.64" width="43.41" height="8.92" fill="#000080"/>
<rect x="75.34" y="204.64" width="8.92" height="8.92" fill="#00008a"/>
<rect x="83.96" y="204.64" width="8.92" height="8.92" fill="#0000a3"/>
<rect x="92.58" y="204.64" width="8.92" height="8.92" fill="#0000c7"/>
<rect x="101.20" y="204.64" width="8.92" height="8.92" fill="#0000d6"/>
<rect x="109.83" y="204.64" width="17.55" height="8.92" fill="#0000e0"/>
<rect x="127.07" y="204.64" width="8.92" height="8.92" fill="#0000d6"/>
<rect x="135.69" y="204.64" width="8.92" height="8.92" fill="#0000c7"/>
<rect x="144.32" y="204.64" width="8.92" height="8.92" fill="#0000a3"/>
<rect x="152.94" y="204.64" width="8.92" height="8.92" fill="#00008a"/>
<rect x="161.56" y="204.64" width="43.41" height="8.92" fill="#000080"/>
<rect x="32.23" y="213.26" width="34.79" height="8.92" fill="#000080"/>
<rect x="66.72" y="213.26" width="8.92" height="8.92" fill="#0000a8"/>
<rect x="75.34" y="213.26" width="8.92" height="8.92" fill="#0000f0"/>
<rect x="83.96" y="213.26" width="8.92" height="8.92" fill="#006bff"/>
<rect x="92.58" y="213.26" width="8.92" height="8.92" fill="#00d1ff"/>
<rect x="101.20" y="213.26" width="8.92" height="8.92" fill="#00fcee"/>
<rect x="109.83" y="213.26" width="17.55" height="8.92" fill="#01f7cd"/>
<rect x="127.07" y="213.26" width="8.92" height="8.92" fill="#00fcee"/>
<rect x="135.69" y="213.26" width="8.92" height="8.92" fill="#00d1ff"/>
<rect x="144.32" y="213.26" width="8.92" height="8.92" fill="#006bff"/>
<rect x="152.94" y="213.26" width="8.92" height="8.92" fill="#0000f0"/>
<rect x="161.56" y="213.26" width="8.92" height="8.92" fill="#0000a8"/>
<rect x="170.18" y="213.26" width="34.79" height="8.92" fill="#000080"/>
<rect x="32.23" y="221.88" width="26.17" height="8.92" fill="#000080"/>
<rect x="58.09" y="221.88" width="8.92" height="8.92" fill="#00008a"/>
<rect x="66.72" y="221.88" width="8.92" height="8.92" fill="#0000db"/>
<rect x="75.34" y="221.88" width="8.92" height="8.92" fill="#0066ff"/>
<rect x="83.96" y="221.88" width="8.92" height="8.92" fill="#03f5bd"/>
<rect x="92.58" y="221.88" width="8.92" height="8.92" fill="#a0f81e"/>
<rect x="101.20" y="221.88" width="8.92" height="8.92" fill="#ffc700"/>
<rect x="109.83" y="221.88" width="17.55" height="8.92" fill="#ff9400"/>
<rect x="127.07" y="221.88" width="8.92" height="8.92" fill="#ffc700"/>
<rect x="135.69" y="221.88" width="8.92" height="8.92" fill="#a0f81e"/>
<rect x="144.32" y="221.88" width="8.92" height="8.92" fill="#03f5bd"/>
<rect x="152.94" y="221.88" width="8.92" height="8.92" fill="#0066ff"/>
<rect x="161.56" y="221.88" width="8.92" height="8.92" fill="#0000db"/>
<rect x="170.18" y="221.88" width="8.92" height="8.92" fill="#00008a"/>
<rect x="178.81" y="221.88" width="26.17" height="8.92" fill="#000080"/>
<rect x="32.23" y="230.49" width="26.17" height="8.92" fill="#000080"/>
<rect x="58.09" y="230.49" width="8.92" height="8.92" fill="#00009e"/>
<rect x="66.72" y="230.49" width="8.92" height="8.92" fill="#0005ff"/>
<rect x="75.34" y="230.49" width="8.92" height="8.92" fill="#00c7ff"/>
<rect x="83.96" y="230.49" width="8.92" height="8.92" fill="#50f249"/>
<rect x="92.58" y="230.49" width="8.92" height="8.92" fill="#ff9400"/>
<rect x="101.20" y="230.49" width="8.92" height="8.92" fill="#ff1f00"/>
<rect x="109.83" y="230.49" width="17.55" height="8.92" fill="#ef0000"/>
<rect x="127.07" y="230.49" width="8.92" height="8.92" fill="#ff1f00"/>
<rect x="135.69" y="230.49" width="8.92" height="8.92" fill="#ff9400"/>
<rect x="144.32" y="230.49" width="8.92" height="8.92" fill="#50f249"/>
<rect x="152.94" y="230.49" width="8.92" height="8.92" fill="#00c7ff"/>
<rect x="161.56" y="230.49" width="8.92" height="8.92" fill="#0005ff"/>
<rect x="170.18" y="230.49" width="8.92" height="8.92" fill="#00009e"/>
<rect x="178.81" y="230.49" width="26.17" height="8.92" fill="#000080"/>
<rect x="32.23" y="239.11" width="26.17" height="8.92" fill="#000080"/>
<rect x="58.09" y="239.11" width="8.92" height="8.92" fill="#0000ad"/>
<rect x="66.72" y="239.11" width="8.92" height="8.92" fill="#0029ff"/>
<rect x="75.34" y="239.11" width="8.92" height="8.92" fill="#00f0ff"/>
<rect x="83.96" y="239.11" width="8.92" height="8.92" fill="#d3fc0c"/>
<rect x="92.58" y="239.11" width="8.92" height="8.92" fill="#ff5000"/>
<rect x="101.20" y="239.11" width="8.92" height="8.92" fill="#e70000"/>
<rect x="109.83" y="239.11" width="17.55" height="8.92" fill="#c60000"/>
<rect x="127.07" y="239.11" width="8.92" height="8.92" fill="#e70000"/>
<rect x="135.69" y="239.11" width="8.92" height="8.92" fill="#ff5000"/>
<rect x="144.32" y="239.11" width="8.92" height="8.92" fill="#d3fc0c"/>
<rect x="152.94" y="239.11" width="8.92" height="8.92" fill="#00f0ff"/>
<rect x="161.56" y="239.11" width="8.92" height="8.92" fill="#0029ff"/>
<rect x="170.18" y="239.11" width="8.92" height="8.92" fill="#0000ad"/>
<rect x="178.81" y="239.11" width="26.17" height="8.92" fill="#000080"/>
<rect x="32.23" y="247.72" width="26.17" height="8.92" fill="#000080"/>
<rect x="58.09" y="247.72" width="8.92" height="8.92" fill="#0000bd"/>
<rect x="66.72" y="247.72" width="8.92" height="8.92" fill="#003dff"/>
<rect x="75.34" y="247.72" width="8.92" height="8.92" fill="#00fef7"/>
<rect x="83.96" y="247.72" width="8.92" height="8.92" fill="#f0fe03"/>
<rect x="92.58" y="247.72" width="8.92" height="8.92" fill="#ff3c00"/>
<rect x="101.20" y="247.72" width="8.92" height="8.92" fill="#da0000"/>
<rect x="109.83" y="247.72" width="17.55" height="8.92" fill="#b10000"/>
<rect x="127.07" y="247.72" width="8.92" height="8.92" fill="#da0000"/>
<rect x="135.69" y="247.72" width="8.92" height="8.92" fill="#ff3c00"/>
<rect x="144.32" y="247.72" width="8.92" height="8.92" fill="#f0fe03"/>
<rect x="152.94" y="247.72" width="8.92" height="8.92" fill="#00fef7"/>
<rect x="161.56" y="247.72" width="8.92" height="8.92" fill="#003dff"/>
<rect x="170.18" y="247.72" width="8.92" height="8.92" fill="#0000bd"/>
<rect x="178.81" y="247.72" width="26.17" height="8.92" fill="#000080"/>
<rect x="32.23" y="256.34" width="26.17" height="8.92" fill="#000080"/>
<rect x="58.09" y="256.34" width="8.92" height="8.92" fill="#0000b8"/>
<rect x="66.72" y="256.34" width="8.92" height="8.92" fill="#0033ff"/>
<rect x="75.34" y="256.34" width="8.92" height="8.92" fill="#00f0ff"/>
<rect x="83.96" y="256.34" width="8.92" height="8.92" fill="#d3fc0c"/>
<rect x="92.58" y="256.34" width="8.92" height="8.92" fill="#ff5000"/>
<rect x="101.20" y="256.34" width="8.92" height="8.92" fill="#e70000"/>
<rect x="109.83" y="256.34" width="17.55" height="8.92" fill="#ba0000"/>
<rect x="127.07" y="256.34" width="8.92" height="8.92" fill="#e70000"/>
<rect x="135.69" y="256.34" width="8.92" height="8.92" fill="#ff5000"/>
<rect x="144.32" y="256.34" width="8.92" height="8.92" fill="#d3fc0c"/>
<rect x="152.94" y="256.34" width="8.92" height="8.92" fill="#00f0ff"/>
<rect x="161.56" y="256.34" width="8.92" height="8.92" fill="#0033ff"/>
<rect x="170.18" y="256.34" width="8.92" height="8.92" fill="#0000b8"/>
<rect x="178.81" y="256.34" width="26.17" height="8.92" fill="#000080"/>
<rect x="32.23" y="264.96" width="26.17" height="8.92" fill="#000080"/>
<rect x="58.09" y="264.96" width="8.92" height="8.92" fill="#0000a8"/>
<rect x="66.72" y="264.96" width="8.92" height="8.92" fill="#001fff"/>
<rect x="75.34" y="264.96" width="8.92" height="8.92" fill="#00c7ff"/>
<rect x="83.96" y="264.96" width="8.92" height="8.92" fill="#57f344"/>
<rect x="92.58" y="264.96" width="8.92" height="8.92" fill="#ff8a00"/>
<rect x="101.20" y="264.96" width="8.92" height="8.92" fill="#ff0a00"/>
<rect x="109.83" y="264.96" width="17.55" height="8.92" fill="#eb0000"/>
<rect x="127.07" y="264.96" width="8.92" height="8.92" fill="#ff0a00"/>
<rect x="135.69" y="264.96" width="8.92" height="8.92" fill="#ff8a00"/>
<rect x="144.32" y="264.96" width="8.92" height="8.92" fill="#57f344"/>
<rect x="152.94" y="264.96" width="8.92" height="8.92" fill="#00c7ff"/>
<rect x="161.56" y="264.96" width="8.92" height="8.92" fill="#001fff"/>
<rect x="170.18" y="264.96" width="8.92" height="8.92" fill="#0000a8"/>
<rect x="178.81" y="264.96" width="26.17" height="8.92" fill="#000080"/>
<rect x="32.23" y="273.57" width="26.17" height="8.92" fill="#000080"/>
<rect x="58.09" y="273.57" width="8.92" height="8.92" fill="#00009e"/>
<rect x="66.72" y="273.57" width="8.92" height="8.92" fill="#0000f5"/>
<rect x="75.34" y="273.57" width="8.92" height="8.92" fill="#0094ff"/>
<rect x="83.96" y="273.57" width="8.92" height="8.92" fill="#06f3ae"/>
<rect x="92.58" y="273.57" width="8.92" height="8.92" fill="#f0fe03"/>
<rect x="101.20" y="273.57" width="8.92" height="8.92" fill="#ff8a00"/>
<rect x="109.83" y="273.57" width="17.55" height="8.92" fill="#ff5a00"/>
<rect x="127.07" y="273.57" width="8.92" height="8.92" fill="#ff8a00"/>
<rect x="135.69" y="273.57" width="8.92" height="8.92" fill="#f0fe03"/>
<rect x="144.32" y="273.57" width="8.92" height="8.92" fill="#06f3ae"/>
<rect x="152.94" y="273.57" width="8.92" height="8.92" fill="#0094ff"/>
<rect x="161.56" y="273.57" width="8.92" height="8.92" fill="#0000f5"/>
<rect x="170.18" y="273.57" width="8.92" height="8.92" fill="#00009e"/>
<rect x="178.81" y="273.57" width="26.17" height="8.92" fill="#000080"/>
<rect x="32.23" y="282.19" width="26.17" height="8.92" fill="#000080"/>
<rect x="58.09" y="282.19" width="8.92" height="8.92" fill="#00008a"/>
<rect x="66.72" y="282.19" width="8.92" height="8.92" fill="#0000db"/>
<rect x="75.34" y="282.19" width="8.92" height="8.92" fill="#0052ff"/>
<rect x="83.96" y="282.19" width="8.92" height="8.92" fill="#00ebff"/>
<rect x="92.58" y="282.19" width="8.92" height="8.92" fill="#26f06f"/>
<rect x="101.20" y="282.19" width="8.92" height="8.92" fill="#f7ff02"/>
<rect x="109.83" y="282.19" width="17.55" height="8.92" fill="#ffd600"/>
<rect x="127.07" y="282.19" width="8.92" height="8.92" fill="#f7ff02"/>
<rect x="135.69" y="282.19" width="8.92" height="8.92" fill="#26f06f"/>
<rect x="144.32" y="282.19" width="8.92" height="8.92" fill="#00ebff"/>
<rect x="152.94" y="282.19" width="8.92" height="8.92" fill="#0052ff"/>
<rect x="161.56" y="282.19" width="8.92" height="8.92" fill="#0000db"/>
<rect x="170.18" y="282.19" width="8.92" height="8.92" fill="#00008a"/>
<rect x="178.81" y="282.19" width="26.17" height="8.92" fill="#000080"/>
<rect x="32.23" y="290.81" width="34.79" height="8.92" fill="#000080"/>
<rect x="66.72" y="290.81" width="8.92" height="8.92" fill="#0000a8"/>
<rect x="75.34" y="290.81" width="8.92" height="8.92" fill="#0005ff"/>
<rect x="83.96" y="290.81" width="8.92" height="8.92" fill="#008aff"/>
<rect x="92.58" y="290.81" width="8.92" height="8.92" fill="#00fef7"/>
<rect x="101.20" y="290.81" width="8.92" height="8.92" fill="#0bf19f"/>
<rect x="109.83" y="290.81" width="17.55" height="8.92" fill="#30f063"/>
<rect x="127.07" y="290.81" width="8.92" height="8.92" fill="#0bf19f"/>
<rect x="135.69" y="290.81" width="8.92" height="8.92" fill="#00fef7"/>
<rect x="144.32" y="290.81" width="8.92" height="8.92" fill="#008aff"/>
<rect x="152.94" y="290.81" width="8.92" height="8.92" fill="#0005ff"/>
<rect x="161.56" y="290.81" width="8.92" height="8.92" fill="#0000a8"/>
<rect x="170.18" y="290.81" width="34.79" height="8.92" fill="#000080"/>
<rect x="32.23" y="299.42" width="34.79" height="8.92" fill="#000080"/>
<rect x="66.72" y="299.42" width="8.92" height="8.92" fill="#000094"/>
<rect x="75.34" y="299.42" width="8.92" height="8.92" fill="#0000d1"/>
<rect x="83.96" y="299.42" width="8.92" height="8.92" fill="#001fff"/>
<rect x="92.58" y="299.42" width="8.92" height="8.92" fill="#0080ff"/>
<rect x="101.20" y="299.42" width="8.92" height="8.92" fill="#00c7ff"/>
<rect x="109.83" y="299.42" width="17.55" height="8.92" fill="#00ebff"/>
<rect x="127.07" y="299.42" width="8.92" height="8.92" fill="#00c7ff"/>
<rect x="135.69" y="299.42" width="8.92" height="8.92" fill="#0080ff"/>
<rect x="144.32" y="299.42" width="8.92" height="8.92" fill="#001fff"/>
<rect x="152.94" y="299.42" width="8.92" height="8.92" fill="#0000d1"/>
<rect x="161.56" y="299.42" width="8.92" height="8.92" fill="#000094"/>
<rect x="170.18" y="299.42" width="34.79" height="8.92" fill="#000080"/>
<rect x="32.23" y="308.04" width="43.41" height="8.92" fill="#000080"/>
<rect x="75.34" y="308.04" width="8.92" height="8.92" fill="#00009e"/>
<rect x="83.96" y="308.04" width="8.92" height="8.92" fill="#0000e6"/>
<rect x="92.58" y="308.04" width="8.92" height="8.92" fill="#0005ff"/>
<rect x="101.20" y="308.04" width="8.92" height="8.92" fill="#0024ff"/>
<rect x="109.83" y="308.04" width="17.55" height="8.92" fill="#003dff"/>
<rect x="127.07" y="308.04" width="8.92" height="8.92" fill="#0024ff"/>
<rect x="135.69" y="308.04" width="8.92" height="8.92" fill="#0005ff"/>
<rect x="144.32" y="308.04" width="8.92" height="8.92" fill="#0000e6"/>
<rect x="152.94" y="308.04" width="8.92" height="8.92" fill="#00009e"/>
<rect x="161.56" y="308.04" width="43.41" height="8.92" fill="#000080"/>
<rect x="32.23" y="316.66" width="43.41" height="8.92" fill="#000080"/>
<rect x="75.34" y="316.66" width="8.92" height="8.92" fill="#00008a"/>
<rect x="83.96" y="316.66" width="8.92" height="8.92" fill="#0000a3"/>
<rect x="92.58" y="316.66" width="8.92" height="8.92" fill="#0000c7"/>
<rect x="101.20" y="316.66" width="8.92" height="8.92" fill="#0000db"/>
<rect x="109.83" y="316.66" width="17.55" height="8.92" fill="#0000e6"/>
<rect x="127.07" y="316.66" width="8.92" height="8.92" fill="#0000db"/>
<rect x="135.69" y="316.66" width="8.92" height="8.92" fill="#0000c7"/>
<rect x="144.32" y="316.66" width="8.92" height="8.92" fill="#0000a3"/>
<rect x="152.94" y="316.66" width="8.92" height="8.92" fill="#00008a"/>
<rect x="161.56" y="316.66" width="43.41" height="8.92" fill="#000080"/>
</g>
<rect x="32.23" y="196.03" width="172.45" height="129.25" fill="none" stroke="#2b2220" stroke-width="1.85"/>
<rect x="83.96" y="229.19" width="68.98" height="44.48" fill="none" stroke="#2b2220" stroke-width="1.6"/>
<rect x="218.40" y="196.50" width="12.00" height="129.40" fill="url(#jet)" stroke="#2b2220" stroke-width="0.5"/>
<g shape-rendering="crispEdges">
<rect x="321.93" y="194.93" width="172.75" height="8.91" fill="#000080"/>
<rect x="321.93" y="203.53" width="52.04" height="8.91" fill="#000080"/>
<rect x="373.66" y="203.53" width="8.92" height="8.91" fill="#00009e"/>
<rect x="382.28" y="203.53" width="8.92" height="8.91" fill="#0000c7"/>
<rect x="390.90" y="203.53" width="8.92" height="8.91" fill="#0000db"/>
<rect x="399.53" y="203.53" width="17.54" height="8.91" fill="#0000e0"/>
<rect x="416.77" y="203.53" width="8.92" height="8.91" fill="#0000db"/>
<rect x="425.39" y="203.53" width="8.92" height="8.91" fill="#0000c7"/>
<rect x="434.02" y="203.53" width="8.92" height="8.91" fill="#00009e"/>
<rect x="442.64" y="203.53" width="52.04" height="8.91" fill="#000080"/>
<rect x="321.93" y="212.15" width="34.79" height="8.91" fill="#000080"/>
<rect x="356.42" y="212.15" width="8.92" height="8.91" fill="#000094"/>
<rect x="365.04" y="212.15" width="8.92" height="8.91" fill="#0000eb"/>
<rect x="373.66" y="212.15" width="8.92" height="8.91" fill="#006bff"/>
<rect x="382.28" y="212.15" width="8.92" height="8.91" fill="#00d1ff"/>
<rect x="390.90" y="212.15" width="8.92" height="8.91" fill="#00f5ff"/>
<rect x="399.53" y="212.15" width="17.54" height="8.91" fill="#00f9de"/>
<rect x="416.77" y="212.15" width="8.92" height="8.91" fill="#00f5ff"/>
<rect x="425.39" y="212.15" width="8.92" height="8.91" fill="#00d1ff"/>
<rect x="434.02" y="212.15" width="8.92" height="8.91" fill="#006bff"/>
<rect x="442.64" y="212.15" width="8.92" height="8.91" fill="#0000eb"/>
<rect x="451.26" y="212.15" width="8.92" height="8.91" fill="#000094"/>
<rect x="459.88" y="212.15" width="34.79" height="8.91" fill="#000080"/>
<rect x="321.93" y="220.75" width="34.79" height="8.91" fill="#000080"/>
<rect x="356.42" y="220.75" width="8.92" height="8.91" fill="#0000d1"/>
<rect x="365.04" y="220.75" width="8.92" height="8.91" fill="#006bff"/>
<rect x="373.66" y="220.75" width="8.92" height="8.91" fill="#01f7cd"/>
<rect x="382.28" y="220.75" width="8.92" height="8.91" fill="#6df437"/>
<rect x="390.90" y="220.75" width="8.92" height="8.91" fill="#ffeb00"/>
<rect x="399.53" y="220.75" width="17.54" height="8.91" fill="#ffa800"/>
<rect x="416.77" y="220.75" width="8.92" height="8.91" fill="#ffeb00"/>
<rect x="425.39" y="220.75" width="8.92" height="8.91" fill="#6df437"/>
<rect x="434.02" y="220.75" width="8.92" height="8.91" fill="#01f7cd"/>
<rect x="442.64" y="220.75" width="8.92" height="8.91" fill="#006bff"/>
<rect x="451.26" y="220.75" width="8.92" height="8.91" fill="#0000d1"/>
<rect x="459.88" y="220.75" width="34.79" height="8.91" fill="#000080"/>
<rect x="321.93" y="229.37" width="26.17" height="8.91" fill="#000080"/>
<rect x="347.79" y="229.37" width="8.92" height="8.91" fill="#00008a"/>
<rect x="356.42" y="229.37" width="8.92" height="8.91" fill="#0000eb"/>
<rect x="365.04" y="229.37" width="8.92" height="8.91" fill="#00a8ff"/>
<rect x="373.66" y="229.37" width="8.92" height="8.91" fill="#14f08a"/>
<rect x="382.28" y="229.37" width="8.92" height="8.91" fill="#ffd100"/>
<rect x="390.90" y="229.37" width="8.92" height="8.91" fill="#ff1400"/>
<rect x="399.53" y="229.37" width="17.54" height="8.91" fill="#e70000"/>
<rect x="416.77" y="229.37" width="8.92" height="8.91" fill="#ff1400"/>
<rect x="425.39" y="229.37" width="8.92" height="8.91" fill="#ffd100"/>
<rect x="434.02" y="229.37" width="8.92" height="8.91" fill="#14f08a"/>
<rect x="442.64" y="229.37" width="8.92" height="8.91" fill="#00a8ff"/>
<rect x="451.26" y="229.37" width="8.92" height="8.91" fill="#0000eb"/>
<rect x="459.88" y="229.37" width="8.92" height="8.91" fill="#00008a"/>
<rect x="468.51" y="229.37" width="26.17" height="8.91" fill="#000080"/>
<rect x="321.93" y="237.97" width="26.17" height="8.91" fill="#000080"/>
<rect x="347.79" y="237.97" width="8.92" height="8.91" fill="#000094"/>
<rect x="356.42" y="237.97" width="8.92" height="8.91" fill="#0000f5"/>
<rect x="365.04" y="237.97" width="8.92" height="8.91" fill="#00b2ff"/>
<rect x="373.66" y="237.97" width="8.92" height="8.91" fill="#26f06f"/>
<rect x="382.28" y="237.97" width="8.92" height="8.91" fill="#ff7500"/>
<rect x="390.90" y="237.97" width="8.92" height="8.91" fill="#c60000"/>
<rect x="399.53" y="237.97" width="17.54" height="8.91" fill="#b60000"/>
<rect x="416.77" y="237.97" width="8.92" height="8.91" fill="#c60000"/>
<rect x="425.39" y="237.97" width="8.92" height="8.91" fill="#ff7500"/>
<rect x="434.02" y="237.97" width="8.92" height="8.91" fill="#26f06f"/>
<rect x="442.64" y="237.97" width="8.92" height="8.91" fill="#00b2ff"/>
<rect x="451.26" y="237.97" width="8.92" height="8.91" fill="#0000f5"/>
<rect x="459.88" y="237.97" width="8.92" height="8.91" fill="#000094"/>
<rect x="468.51" y="237.97" width="26.17" height="8.91" fill="#000080"/>
<rect x="321.93" y="246.58" width="26.17" height="8.91" fill="#000080"/>
<rect x="347.79" y="246.58" width="8.92" height="8.91" fill="#000094"/>
<rect x="356.42" y="246.58" width="8.92" height="8.91" fill="#0000ff"/>
<rect x="365.04" y="246.58" width="8.92" height="8.91" fill="#00b8ff"/>
<rect x="373.66" y="246.58" width="8.92" height="8.91" fill="#26f06f"/>
<rect x="382.28" y="246.58" width="8.92" height="8.91" fill="#ff5a00"/>
<rect x="390.90" y="246.58" width="8.92" height="8.91" fill="#ba0000"/>
<rect x="399.53" y="246.58" width="17.54" height="8.91" fill="#ad0000"/>
<rect x="416.77" y="246.58" width="8.92" height="8.91" fill="#ba0000"/>
<rect x="425.39" y="246.58" width="8.92" height="8.91" fill="#ff5a00"/>
<rect x="434.02" y="246.58" width="8.92" height="8.91" fill="#26f06f"/>
<rect x="442.64" y="246.58" width="8.92" height="8.91" fill="#00b8ff"/>
<rect x="451.26" y="246.58" width="8.92" height="8.91" fill="#0000ff"/>
<rect x="459.88" y="246.58" width="8.92" height="8.91" fill="#000094"/>
<rect x="468.51" y="246.58" width="26.17" height="8.91" fill="#000080"/>
<rect x="321.93" y="255.19" width="26.17" height="8.91" fill="#000080"/>
<rect x="347.79" y="255.19" width="8.92" height="8.91" fill="#000094"/>
<rect x="356.42" y="255.19" width="8.92" height="8.91" fill="#0000f5"/>
<rect x="365.04" y="255.19" width="8.92" height="8.91" fill="#009eff"/>
<rect x="373.66" y="255.19" width="8.92" height="8.91" fill="#1cf07c"/>
<rect x="382.28" y="255.19" width="8.92" height="8.91" fill="#ff8000"/>
<rect x="390.90" y="255.19" width="8.92" height="8.91" fill="#d20000"/>
<rect x="399.53" y="255.19" width="17.54" height="8.91" fill="#b10000"/>
<rect x="416.77" y="255.19" width="8.92" height="8.91" fill="#d20000"/>
<rect x="425.39" y="255.19" width="8.92" height="8.91" fill="#ff8000"/>
<rect x="434.02" y="255.19" width="8.92" height="8.91" fill="#1cf07c"/>
<rect x="442.64" y="255.19" width="8.92" height="8.91" fill="#009eff"/>
<rect x="451.26" y="255.19" width="8.92" height="8.91" fill="#0000f5"/>
<rect x="459.88" y="255.19" width="8.92" height="8.91" fill="#000094"/>
<rect x="468.51" y="255.19" width="26.17" height="8.91" fill="#000080"/>
<rect x="321.93" y="263.81" width="26.17" height="8.91" fill="#000080"/>
<rect x="347.79" y="263.81" width="8.92" height="8.91" fill="#00008a"/>
<rect x="356.42" y="263.81" width="8.92" height="8.91" fill="#0000db"/>
<rect x="365.04" y="263.81" width="8.92" height="8.91" fill="#0075ff"/>
<rect x="373.66" y="263.81" width="8.92" height="8.91" fill="#02f6c5"/>
<rect x="382.28" y="263.81" width="8.92" height="8.91" fill="#ffe500"/>
<rect x="390.90" y="263.81" width="8.92" height="8.91" fill="#ff1400"/>
<rect x="399.53" y="263.81" width="17.54" height="8.91" fill="#de0000"/>
<rect x="416.77" y="263.81" width="8.92" height="8.91" fill="#ff1400"/>
<rect x="425.39" y="263.81" width="8.92" height="8.91" fill="#ffe500"/>
<rect x="434.02" y="263.81" width="8.92" height="8.91" fill="#02f6c5"/>
<rect x="442.64" y="263.81" width="8.92" height="8.91" fill="#0075ff"/>
<rect x="451.26" y="263.81" width="8.92" height="8.91" fill="#0000db"/>
<rect x="459.88" y="263.81" width="8.92" height="8.91" fill="#00008a"/>
<rect x="468.51" y="263.81" width="26.17" height="8.91" fill="#000080"/>
<rect x="321.93" y="272.41" width="34.79" height="8.91" fill="#000080"/>
<rect x="356.42" y="272.41" width="8.92" height="8.91" fill="#0000b8"/>
<rect x="365.04" y="272.41" width="8.92" height="8.91" fill="#0033ff"/>
<rect x="373.66" y="272.41" width="8.92" height="8.91" fill="#00e5ff"/>
<rect x="382.28" y="272.41" width="8.92" height="8.91" fill="#43f153"/>
<rect x="390.90" y="272.41" width="8.92" height="8.91" fill="#ffbd00"/>
<rect x="399.53" y="272.41" width="17.54" height="8.91" fill="#ff3c00"/>
<rect x="416.77" y="272.41" width="8.92" height="8.91" fill="#ffbd00"/>
<rect x="425.39" y="272.41" width="8.92" height="8.91" fill="#43f153"/>
<rect x="434.02" y="272.41" width="8.92" height="8.91" fill="#00e5ff"/>
<rect x="442.64" y="272.41" width="8.92" height="8.91" fill="#0033ff"/>
<rect x="451.26" y="272.41" width="8.92" height="8.91" fill="#0000b8"/>
<rect x="459.88" y="272.41" width="34.79" height="8.91" fill="#000080"/>
<rect x="321.93" y="281.02" width="34.79" height="8.91" fill="#000080"/>
<rect x="356.42" y="281.02" width="8.92" height="8.91" fill="#00009e"/>
<rect x="365.04" y="281.02" width="8.92" height="8.91" fill="#0000f0"/>
<rect x="373.66" y="281.02" width="8.92" height="8.91" fill="#008aff"/>
<rect x="382.28" y="281.02" width="8.92" height="8.91" fill="#01f7cd"/>
<rect x="390.90" y="281.02" width="8.92" height="8.91" fill="#65f43b"/>
<rect x="399.53" y="281.02" width="17.54" height="8.91" fill="#fffa00"/>
<rect x="416.77" y="281.02" width="8.92" height="8.91" fill="#65f43b"/>
<rect x="425.39" y="281.02" width="8.92" height="8.91" fill="#01f7cd"/>
<rect x="434.02" y="281.02" width="8.92" height="8.91" fill="#008aff"/>
<rect x="442.64" y="281.02" width="8.92" height="8.91" fill="#0000f0"/>
<rect x="451.26" y="281.02" width="8.92" height="8.91" fill="#00009e"/>
<rect x="459.88" y="281.02" width="34.79" height="8.91" fill="#000080"/>
<rect x="321.93" y="289.63" width="34.79" height="8.91" fill="#000080"/>
<rect x="356.42" y="289.63" width="8.92" height="8.91" fill="#00008a"/>
<rect x="365.04" y="289.63" width="8.92" height="8.91" fill="#0000c7"/>
<rect x="373.66" y="289.63" width="8.92" height="8.91" fill="#0029ff"/>
<rect x="382.28" y="289.63" width="8.92" height="8.91" fill="#00a8ff"/>
<rect x="390.90" y="289.63" width="8.92" height="8.91" fill="#00fcee"/>
<rect x="399.53" y="289.63" width="17.54" height="8.91" fill="#06f3ae"/>
<rect x="416.77" y="289.63" width="8.92" height="8.91" fill="#00fcee"/>
<rect x="425.39" y="289.63" width="8.92" height="8.91" fill="#00a8ff"/>
<rect x="434.02" y="289.63" width="8.92" height="8.91" fill="#0029ff"/>
<rect x="442.64" y="289.63" width="8.92" height="8.91" fill="#0000c7"/>
<rect x="451.26" y="289.63" width="8.92" height="8.91" fill="#00008a"/>
<rect x="459.88" y="289.63" width="34.79" height="8.91" fill="#000080"/>
<rect x="321.93" y="298.25" width="43.41" height="8.91" fill="#000080"/>
<rect x="365.04" y="298.25" width="8.92" height="8.91" fill="#00009e"/>
<rect x="373.66" y="298.25" width="8.92" height="8.91" fill="#0000eb"/>
<rect x="382.28" y="298.25" width="8.92" height="8.91" fill="#003dff"/>
<rect x="390.90" y="298.25" width="8.92" height="8.91" fill="#0080ff"/>
<rect x="399.53" y="298.25" width="17.54" height="8.91" fill="#00b2ff"/>
<rect x="416.77" y="298.25" width="8.92" height="8.91" fill="#0080ff"/>
<rect x="425.39" y="298.25" width="8.92" height="8.91" fill="#003dff"/>
<rect x="434.02" y="298.25" width="8.92" height="8.91" fill="#0000eb"/>
<rect x="442.64" y="298.25" width="8.92" height="8.91" fill="#00009e"/>
<rect x="451.26" y="298.25" width="43.41" height="8.91" fill="#000080"/>
<rect x="321.93" y="306.85" width="52.04" height="8.91" fill="#000080"/>
<rect x="373.66" y="306.85" width="8.92" height="8.91" fill="#0000b2"/>
<rect x="382.28" y="306.85" width="8.92" height="8.91" fill="#0000e6"/>
<rect x="390.90" y="306.85" width="8.92" height="8.91" fill="#0000ff"/>
<rect x="399.53" y="306.85" width="17.54" height="8.91" fill="#0014ff"/>
<rect x="416.77" y="306.85" width="8.92" height="8.91" fill="#0000ff"/>
<rect x="425.39" y="306.85" width="8.92" height="8.91" fill="#0000e6"/>
<rect x="434.02" y="306.85" width="8.92" height="8.91" fill="#0000b2"/>
<rect x="442.64" y="306.85" width="52.04" height="8.91" fill="#000080"/>
<rect x="321.93" y="315.46" width="52.04" height="8.91" fill="#000080"/>
<rect x="373.66" y="315.46" width="8.92" height="8.91" fill="#00008f"/>
<rect x="382.28" y="315.46" width="8.92" height="8.91" fill="#0000a8"/>
<rect x="390.90" y="315.46" width="8.92" height="8.91" fill="#0000c2"/>
<rect x="399.53" y="315.46" width="17.54" height="8.91" fill="#0000cc"/>
<rect x="416.77" y="315.46" width="8.92" height="8.91" fill="#0000c2"/>
<rect x="425.39" y="315.46" width="8.92" height="8.91" fill="#0000a8"/>
<rect x="434.02" y="315.46" width="8.92" height="8.91" fill="#00008f"/>
<rect x="442.64" y="315.46" width="52.04" height="8.91" fill="#000080"/>
</g>
<rect x="321.93" y="194.93" width="172.45" height="129.15" fill="none" stroke="#2b2220" stroke-width="1.85"/>
<rect x="373.66" y="228.06" width="68.98" height="44.45" fill="none" stroke="#2b2220" stroke-width="1.6"/>
<rect x="508.00" y="196.10" width="11.60" height="129.20" fill="url(#jet)" stroke="#2b2220" stroke-width="0.5"/>
<text x="4.40" y="23.30" text-anchor="start">(a)</text>
<text x="31.05" y="23.95" text-anchor="end">0</text>
<text x="31.60" y="66.25" text-anchor="end">2.5</text>
<text x="30.80" y="108.05" text-anchor="end">5</text>
<text x="30.10" y="151.75" text-anchor="end">7.5</text>
<text transform="translate(14.55 82.60) rotate(-90)" text-anchor="middle"><tspan class="i">z</tspan>/km</text>
<text x="33.65" y="159.65" text-anchor="middle">0</text>
<text x="77.35" y="159.95" text-anchor="middle">2.5</text>
<text x="122.45" y="159.95" text-anchor="middle">5</text>
<text x="163.85" y="159.95" text-anchor="middle">7.5</text>
<text x="207.35" y="159.95" text-anchor="middle">10</text>
<text x="124.05" y="175.85" text-anchor="middle"><tspan class="i">x</tspan>/km</text>
<text x="234.00" y="151.80" text-anchor="start">0</text>
<text x="234.00" y="92.98" text-anchor="start">0.25</text>
<text x="234.00" y="35.26" text-anchor="start">0.5</text>
<text x="211.30" y="14.70" text-anchor="start">g/cm<tspan class="sup" dy="-6.0" dx="0.3">3</tspan></text>
<text x="288.30" y="23.20" text-anchor="start">(b)</text>
<text x="318.35" y="23.15" text-anchor="end">0</text>
<text x="318.80" y="65.62" text-anchor="end">2.5</text>
<text x="318.80" y="107.88" text-anchor="end">5</text>
<text x="318.20" y="151.05" text-anchor="end">7.5</text>
<text transform="translate(302.25 83.65) rotate(-90)" text-anchor="middle"><tspan class="i">z</tspan>/km</text>
<text x="321.55" y="159.55" text-anchor="middle">0</text>
<text x="364.68" y="160.35" text-anchor="middle">2.5</text>
<text x="409.60" y="159.45" text-anchor="middle">5</text>
<text x="451.12" y="160.35" text-anchor="middle">7.5</text>
<text x="494.95" y="159.95" text-anchor="middle">10</text>
<text x="410.90" y="176.55" text-anchor="middle"><tspan class="i">x</tspan>/km</text>
<text x="521.80" y="151.70" text-anchor="start">0</text>
<text x="521.80" y="92.28" text-anchor="start">0.25</text>
<text x="521.80" y="34.26" text-anchor="start">0.5</text>
<text x="500.20" y="14.40" text-anchor="start">g/cm<tspan class="sup" dy="-6.0" dx="0.3">3</tspan></text>
<rect x="321.75" y="135.05" width="26.9" height="12.12" fill="#ffffff" stroke="#6a6468" stroke-width="0.3"/>
<text x="324.65" y="145.55" text-anchor="start">n=1</text>
<text x="4.60" y="199.40" text-anchor="start">(c)</text>
<text x="28.55" y="198.15" text-anchor="end">0</text>
<text x="29.60" y="240.58" text-anchor="end">2.5</text>
<text x="28.90" y="283.72" text-anchor="end">5</text>
<text x="28.50" y="327.45" text-anchor="end">7.5</text>
<text transform="translate(13.55 257.85) rotate(-90)" text-anchor="middle"><tspan class="i">z</tspan>/km</text>
<text x="32.35" y="337.75" text-anchor="middle">0</text>
<text x="75.60" y="337.95" text-anchor="middle">2.5</text>
<text x="120.65" y="336.95" text-anchor="middle">5</text>
<text x="161.90" y="337.95" text-anchor="middle">7.5</text>
<text x="205.65" y="337.15" text-anchor="middle">10</text>
<text x="122.45" y="354.05" text-anchor="middle"><tspan class="i">x</tspan>/km</text>
<text x="234.00" y="329.30" text-anchor="start">0</text>
<text x="234.00" y="270.30" text-anchor="start">0.25</text>
<text x="234.00" y="212.50" text-anchor="start">0.5</text>
<text x="211.70" y="191.90" text-anchor="start">g/cm<tspan class="sup" dy="-6.0" dx="0.3">3</tspan></text>
<rect x="33.05" y="312.05" width="26.9" height="12.32" fill="#ffffff" stroke="#6a6468" stroke-width="0.3"/>
<text x="36.25" y="322.05" text-anchor="start">n=2</text>
<text x="288.20" y="199.00" text-anchor="start">(d)</text>
<text x="318.05" y="199.75" text-anchor="end">0</text>
<text x="318.60" y="242.25" text-anchor="end">2.5</text>
<text x="317.10" y="284.55" text-anchor="end">5</text>
<text x="317.60" y="327.85" text-anchor="end">7.5</text>
<text transform="translate(303.45 256.95) rotate(-90)" text-anchor="middle"><tspan class="i">z</tspan>/km</text>
<text x="322.85" y="336.75" text-anchor="middle">0</text>
<text x="366.20" y="336.25" text-anchor="middle">2.5</text>
<text x="411.75" y="335.25" text-anchor="middle">5</text>
<text x="452.50" y="336.25" text-anchor="middle">7.5</text>
<text x="496.45" y="336.45" text-anchor="middle">10</text>
<text x="412.05" y="352.45" text-anchor="middle"><tspan class="i">x</tspan>/km</text>
<text x="522.90" y="330.20" text-anchor="start">0</text>
<text x="523.10" y="271.36" text-anchor="start">0.25</text>
<text x="523.30" y="213.31" text-anchor="start">0.5</text>
<text x="500.40" y="191.90" text-anchor="start">g/cm<tspan class="sup" dy="-6.0" dx="0.3">3</tspan></text>
<rect x="322.75" y="310.55" width="26.9" height="12.62" fill="#ffffff" stroke="#6a6468" stroke-width="0.3"/>
<text x="326.15" y="320.85" text-anchor="start">n=3</text>
</svg></body></html>
